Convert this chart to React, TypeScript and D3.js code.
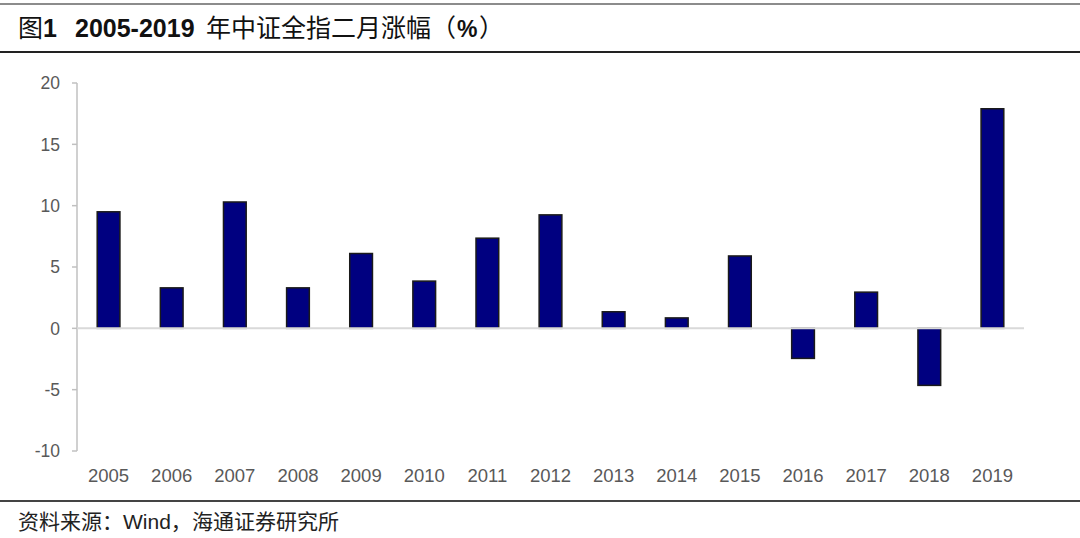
import React from "react";
import * as d3 from "d3";

const years = ["2005","2006","2007","2008","2009","2010","2011","2012","2013","2014","2015","2016","2017","2018","2019"];
const values = [9.5, 3.3, 10.3, 3.3, 6.1, 3.85, 7.35, 9.25, 1.35, 0.85, 5.9, -2.45, 2.95, -4.65, 17.9];
const yTicks = [-10, -5, 0, 5, 10, 15, 20];

const W = 1080, H = 538;
const left = 77, right = 1024, top = 83, bottom = 451;

export default function App() {
  const x = d3.scaleBand<string>().domain(years).range([left, right]).paddingInner(0.64).paddingOuter(0.32);
  const y = d3.scaleLinear().domain([-10, 20]).range([bottom, top]);
  const num = "'Liberation Sans', Arial, sans-serif";
  const cjk = "'Noto Sans CJK SC', sans-serif";
  return (
    <svg width={W} height={H} style={{ position: "absolute", left: 0, top: 0, background: "#fff" }}>
      <rect x={0} y={0} width={W} height={H} fill="#fff" />
      <line x1={0} x2={W} y1={4} y2={4} stroke="#8c8c8c" strokeWidth={2} />
      <text x={18} y={37} fontSize={25} fill="#111" fontFamily={num}>
        <tspan fontFamily={cjk}>图</tspan>
        <tspan fontWeight="bold">1</tspan>
        <tspan x={75} fontWeight="bold">2005-2019</tspan>
        <tspan x={206} fontFamily={cjk}>年中证全指二月涨幅</tspan>
        <tspan x={431} fontFamily={cjk}>（</tspan>
        <tspan x={457} fontWeight="bold" fontSize={23}>%</tspan>
        <tspan x={479} fontFamily={cjk}>）</tspan>
      </text>
      <line x1={0} x2={W} y1={52} y2={52} stroke="#222" strokeWidth={2} />

      {/* y axis */}
      <line x1={left} x2={left} y1={y(20)} y2={y(-10)} stroke="#c0c0c0" strokeWidth={1.5} />
      {yTicks.map((t) => (
        <g key={t}>
          <line x1={left - 5} x2={left} y1={y(t)} y2={y(t)} stroke="#c0c0c0" strokeWidth={1.5} />
          <text x={60} y={y(t)} dy="0.36em" textAnchor="end" fontSize={17.5} fill="#595959" fontFamily={num}>{t}</text>
        </g>
      ))}

      {/* bars */}
      {years.map((yr, i) => {
        const v = values[i];
        const y0 = y(Math.max(0, v));
        const y1 = y(Math.min(0, v));
        return (
          <rect key={yr} x={x(yr)} y={y0} width={x.bandwidth()} height={y1 - y0}
            fill="#000080" stroke="#1a1a1a" strokeWidth={1.5} />
        );
      })}

      {/* zero line */}
      <line x1={left} x2={right} y1={y(0)} y2={y(0)} stroke="#d9d9d9" strokeWidth={2} />

      {years.map((yr) => (
        <text key={yr} x={(x(yr) as number) + x.bandwidth() / 2} y={482} textAnchor="middle" fontSize={18.5} fill="#595959" fontFamily={num}>{yr}</text>
      ))}

      <line x1={0} x2={W} y1={501} y2={501} stroke="#444" strokeWidth={2} />
      <text x={18} y={529} fontSize={21} fill="#222" fontFamily={cjk}>
        <tspan>资料来源：</tspan>
        <tspan x={123} fontFamily={num}>Wind</tspan>
        <tspan>，</tspan>
        <tspan x={192}>海通证券研究所</tspan>
      </text>
    </svg>
  );
}
